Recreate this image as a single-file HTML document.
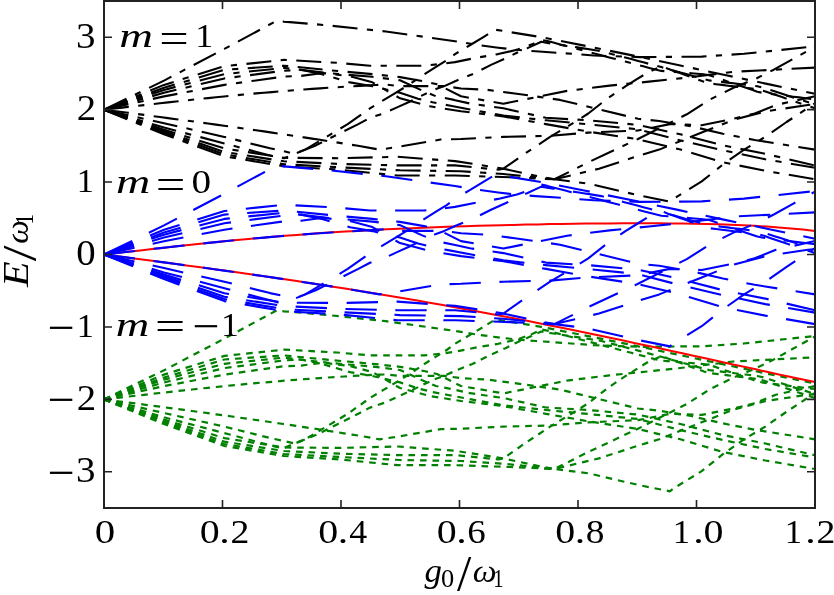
<!DOCTYPE html><html><head><meta charset="utf-8"><style>html,body{margin:0;padding:0;background:#fff;overflow:hidden}svg{display:block}</style></head><body><svg width="834" height="595" viewBox="0 0 834 595">
<rect width="100%" height="100%" fill="#fff"/>
<g fill="none" stroke-linejoin="round">
<path d="M104.0 399.4 L164.0 370.3 L224.4 338.6 L276.7 310.4 L284.0 311.3 L326.4 314.9 L385.9 321.2 L455.0 330.9 L476.6 334.5 L498.2 337.4 L516.9 339.5 L535.6 341.0 L565.0 343.0 L593.8 345.2 L640.0 346.8 L701.7 346.3 L744.1 343.5 L815.0 336.0" stroke="#008000" stroke-width="2.2" stroke-dasharray="6.6 5.9" stroke-linecap="butt"/>
<path d="M104.0 399.4 L164.0 374.6 L224.4 355.9 L284.0 349.6 L337.0 352.5 L370.0 355.4 L424.0 355.4 L442.0 353.6 L455.0 351.8 L476.6 347.4 L498.2 343.8 L516.9 339.5 L532.7 333.8 L541.3 329.5 L547.3 330.7 L553.3 332.3 L559.3 333.9 L565.3 335.4 L571.3 337.0 L577.3 338.6 L583.3 340.2 L589.3 341.8 L595.3 343.4 L601.3 345.0 L607.3 346.6 L613.3 348.1 L619.3 349.7 L625.3 351.3 L631.3 352.8 L637.3 354.4 L643.3 356.0 L649.3 357.6 L655.3 359.2 L661.3 360.6 L667.3 361.1 L673.3 361.5 L679.3 362.0 L685.3 362.5 L691.3 363.0 L697.3 363.5 L703.3 364.0 L709.3 364.9 L715.3 366.9 L721.3 369.0 L727.3 371.1 L733.3 373.1 L739.3 375.2 L745.3 377.2 L751.3 379.3 L757.3 381.4 L763.3 382.7 L769.3 383.4 L775.3 384.2 L781.3 384.9 L787.3 385.7 L793.3 386.4 L799.3 387.1 L805.3 387.9 L811.3 388.6 L815.0 389.0" stroke="#008000" stroke-width="2.2" stroke-dasharray="6.6 5.9" stroke-linecap="butt"/>
<path d="M104.0 399.4 L164.0 417.3 L224.4 433.1 L276.7 447.0 L284.0 448.0 L305.2 439.3 L326.4 426.6 L347.7 413.8 L370.0 398.0 L382.0 390.8 L394.0 383.6 L409.6 374.0 L422.8 365.0 L436.0 356.6 L446.7 350.0 L455.0 343.8 L469.4 335.2 L483.8 326.6 L495.3 319.4 L541.0 326.8 L586.6 335.8 L632.3 345.1 L678.0 354.7 L723.7 364.4 L769.3 374.1 L815.0 383.5" stroke="#008000" stroke-width="2.2" stroke-dasharray="6.6 5.9" stroke-linecap="butt"/>
<path d="M104.0 399.4 L164.0 413.0 L224.4 426.6 L270.0 438.0 L284.0 441.0 L294.6 443.5 L315.8 435.1 L337.0 424.4 L358.3 413.8 L370.0 407.6 L384.4 402.8 L397.6 396.8 L409.6 391.4 L422.8 384.8 L436.0 378.8 L444.3 375.8 L456.3 370.4 L472.3 364.0 L491.0 354.6 L505.4 348.2 L516.9 342.4 L527.0 338.1 L541.3 331.5 L547.3 332.6 L553.3 333.5 L559.3 334.4 L565.3 335.3 L571.3 336.2 L577.3 337.1 L583.3 338.1 L589.3 339.0 L595.3 339.9 L601.3 341.0 L607.3 342.6 L613.3 344.1 L619.3 345.7 L625.3 347.3 L631.3 348.8 L637.3 350.4 L643.3 352.0 L649.3 353.6 L655.3 355.2 L661.3 356.8 L667.3 358.5 L673.3 360.2 L679.3 361.9 L685.3 363.5 L691.3 365.2 L697.3 366.9 L703.3 368.6 L709.3 370.1 L715.3 370.8 L721.3 371.6 L727.3 372.3 L733.3 373.0 L739.3 373.8 L745.3 374.5 L751.3 375.2 L757.3 376.0 L763.3 377.4 L769.3 379.3 L775.3 381.3 L781.3 383.2 L787.3 385.1 L793.3 387.1 L799.3 389.0 L805.3 390.9 L811.3 392.8 L815.0 394.0" stroke="#008000" stroke-width="2.2" stroke-dasharray="6.6 5.9" stroke-linecap="butt"/>
<path d="M104.0 399.4 L112.0 398.5 L120.0 397.6 L128.0 396.6 L136.0 395.7 L144.0 394.8 L152.0 393.9 L160.0 393.0 L168.0 392.1 L176.0 391.2 L184.0 390.3 L192.0 389.5 L200.0 388.6 L208.0 387.8 L216.0 387.0 L224.0 386.2 L232.0 385.4 L240.0 384.6 L248.0 383.9 L256.0 383.1 L264.0 382.4 L272.0 381.8 L280.0 381.1 L288.0 380.4 L296.0 379.8 L304.0 379.2 L312.0 378.6 L320.0 378.1 L328.0 377.5 L336.0 377.0 L344.0 376.5 L352.0 376.0 L360.0 375.6 L368.0 375.1 L376.0 374.7 L384.0 374.3 L385.0 374.2 L398.8 375.8 L426.4 375.8 L444.3 375.8 L461.1 378.2 L487.5 379.6 L514.8 383.2 L540.7 386.8 L560.0 389.6 L588.3 396.5 L638.0 408.5 L659.2 410.7 L691.0 416.0 L722.9 423.4 L754.7 429.7 L815.0 439.3" stroke="#008000" stroke-width="2.2" stroke-dasharray="6.6 5.9" stroke-linecap="butt"/>
<path d="M104.0 399.4 L164.0 377.5 L224.4 359.5 L284.0 355.4 L330.0 360.0 L372.4 363.8 L400.0 366.8 L424.0 371.0 L437.0 374.0 L461.0 386.0 L503.4 393.4 L535.3 387.0 L567.1 380.6 L609.6 375.3 L651.3 371.1 L685.0 367.5 L733.5 361.5 L815.0 357.3" stroke="#008000" stroke-width="2.2" stroke-dasharray="6.6 5.9" stroke-linecap="butt"/>
<path d="M104.0 399.4 L164.0 379.6 L224.4 363.8 L284.0 357.6 L330.0 363.0 L372.4 366.5 L400.0 370.0 L421.6 380.0 L436.0 386.0 L454.0 389.6 L470.0 393.2 L503.4 398.0 L545.9 407.5 L588.3 410.0 L638.0 414.6 L680.4 424.0 L722.9 435.1 L765.3 443.5 L815.0 455.2" stroke="#008000" stroke-width="2.2" stroke-dasharray="6.6 5.9" stroke-linecap="butt"/>
<path d="M104.0 399.4 L164.0 382.5 L224.4 368.1 L284.0 360.4 L301.0 359.5 L323.0 364.2 L350.0 372.1 L372.4 376.0 L400.0 382.4 L418.0 388.4 L432.4 392.0 L448.0 395.0 L470.0 399.2 L503.4 405.3 L545.9 410.0 L588.3 414.0 L638.0 419.0 L680.0 430.0 L722.9 440.0 L765.3 449.0 L815.0 457.5" stroke="#008000" stroke-width="2.2" stroke-dasharray="6.6 5.9" stroke-linecap="butt"/>
<path d="M104.0 399.4 L164.0 386.1 L224.4 374.6 L284.0 366.2 L301.0 365.6 L323.0 362.7 L350.0 366.0 L372.4 372.0 L400.0 388.0 L430.0 396.0 L461.0 401.0 L503.4 406.1 L545.9 413.8 L588.3 421.3 L638.0 429.0 L680.4 439.3 L722.9 452.0 L765.3 460.5 L815.0 469.0" stroke="#008000" stroke-width="2.2" stroke-dasharray="6.6 5.9" stroke-linecap="butt"/>
<path d="M104.0 399.4 L112.0 400.4 L120.0 401.5 L128.0 402.5 L136.0 403.5 L144.0 404.6 L152.0 405.7 L160.0 406.7 L168.0 407.8 L176.0 408.9 L184.0 409.9 L192.0 411.0 L200.0 412.1 L208.0 413.2 L216.0 414.3 L224.0 415.4 L232.0 416.5 L240.0 417.7 L248.0 418.8 L256.0 420.0 L264.0 421.1 L272.0 422.3 L280.0 423.5 L288.0 424.7 L296.0 425.9 L304.0 427.1 L312.0 428.3 L320.0 429.5 L328.0 430.8 L336.0 432.0 L344.0 433.3 L352.0 434.6 L358.0 435.5 L379.5 439.3 L394.4 437.2 L440.7 429.2 L461.0 428.7 L503.4 426.6 L550.1 425.5 L588.3 422.3 L638.0 420.2 L669.8 413.8 L701.7 414.9 L733.5 408.5 L754.7 403.2 L775.9 394.7 L815.0 386.0" stroke="#008000" stroke-width="2.2" stroke-dasharray="6.6 5.9" stroke-linecap="butt"/>
<path d="M104.0 399.4 L164.0 419.5 L224.4 438.1 L284.0 447.5 L340.0 447.9 L397.6 446.5 L455.1 450.8 L501.2 458.0 L541.4 466.6 L554.4 469.0 L599.0 458.4 L638.0 445.7 L659.2 439.3 L680.4 430.8 L701.7 422.3 L733.5 409.6 L765.3 401.1 L807.8 394.7 L815.0 394.0" stroke="#008000" stroke-width="2.2" stroke-dasharray="6.6 5.9" stroke-linecap="butt"/>
<path d="M104.0 399.4 L164.0 421.0 L224.4 441.7 L284.0 451.0 L340.0 453.7 L397.6 455.1 L455.1 455.1 L498.3 459.4 L503.4 458.4 L524.7 443.5 L550.1 426.6 L571.4 413.8 L588.3 403.2 L608.2 387.6 L625.4 376.1 L636.9 368.9 L648.5 361.7 L662.0 356.0 L668.0 358.5 L674.0 360.7 L680.0 362.8 L686.0 365.0 L692.0 367.2 L698.0 369.3 L704.0 371.5 L710.0 373.2 L716.0 373.9 L722.0 374.6 L728.0 375.4 L734.0 376.1 L740.0 376.8 L746.0 377.6 L752.0 378.3 L758.0 379.0 L764.0 380.7 L770.0 382.7 L776.0 384.8 L782.0 386.8 L788.0 388.9 L794.0 390.9 L800.0 393.0 L806.0 395.0 L812.0 397.0 L815.0 398.0" stroke="#008000" stroke-width="2.2" stroke-dasharray="6.6 5.9" stroke-linecap="butt"/>
<path d="M104.0 399.4 L164.0 422.5 L224.4 444.0 L284.0 454.0 L340.0 457.0 L400.0 460.0 L461.0 461.0 L503.4 463.7 L554.4 469.0 L588.3 452.0 L638.0 428.7 L686.8 404.0 L710.2 389.1 L733.5 377.5 L756.8 367.9 L773.8 359.4 L792.9 348.8 L815.0 336.5" stroke="#008000" stroke-width="2.2" stroke-dasharray="6.6 5.9" stroke-linecap="butt"/>
<path d="M104.0 399.4 L164.0 424.0 L224.4 446.0 L284.0 456.0 L340.0 459.4 L397.6 465.2 L455.1 465.2 L510.0 467.0 L554.4 469.0 L588.3 473.3 L638.0 484.9 L669.8 491.3 L674.1 488.1 L701.7 471.1 L722.9 454.2 L744.1 439.3 L765.3 426.6 L786.6 411.7 L815.0 393.0" stroke="#008000" stroke-width="2.2" stroke-dasharray="6.6 5.9" stroke-linecap="butt"/>
<path d="M104.0 109.7 L164.0 80.6 L224.4 48.9 L276.7 20.7 L284.0 21.6 L326.4 25.2 L385.9 31.5 L455.0 41.2 L476.6 44.8 L498.2 47.7 L516.9 49.8 L535.6 51.3 L565.0 53.3 L593.8 55.5 L640.0 57.1 L701.7 56.6 L744.1 53.8 L815.0 46.3" stroke="#000000" stroke-width="2.1" stroke-dasharray="25 9.4 6.2 9.5" stroke-linecap="butt"/>
<path d="M104.0 109.7 L164.0 84.9 L224.4 66.2 L284.0 59.9 L337.0 62.8 L370.0 65.7 L424.0 65.7 L442.0 63.9 L455.0 62.1 L476.6 57.7 L498.2 54.1 L516.9 49.8 L532.7 44.1 L541.3 39.8 L547.3 41.0 L553.3 42.6 L559.3 44.2 L565.3 45.7 L571.3 47.3 L577.3 48.9 L583.3 50.5 L589.3 52.1 L595.3 53.7 L601.3 55.3 L607.3 56.9 L613.3 58.4 L619.3 60.0 L625.3 61.6 L631.3 63.1 L637.3 64.7 L643.3 66.3 L649.3 67.9 L655.3 69.5 L661.3 70.9 L667.3 71.4 L673.3 71.8 L679.3 72.3 L685.3 72.8 L691.3 73.3 L697.3 73.8 L703.3 74.3 L709.3 75.2 L715.3 77.2 L721.3 79.3 L727.3 81.4 L733.3 83.4 L739.3 85.5 L745.3 87.5 L751.3 89.6 L757.3 91.7 L763.3 93.0 L769.3 93.7 L775.3 94.5 L781.3 95.2 L787.3 96.0 L793.3 96.7 L799.3 97.4 L805.3 98.2 L811.3 98.9 L815.0 99.3" stroke="#000000" stroke-width="2.1" stroke-dasharray="25 9.4 6.2 9.5" stroke-linecap="butt"/>
<path d="M104.0 109.7 L164.0 127.6 L224.4 143.4 L276.7 157.3 L284.0 158.3 L305.2 149.6 L326.4 136.9 L347.7 124.1 L370.0 108.3 L382.0 101.1 L394.0 93.9 L409.6 84.3 L422.8 75.3 L436.0 66.9 L446.7 60.3 L455.0 54.1 L469.4 45.5 L483.8 36.9 L495.3 29.7 L541.0 37.1 L586.6 46.1 L632.3 55.4 L678.0 65.0 L723.7 74.7 L769.3 84.4 L815.0 93.8" stroke="#000000" stroke-width="2.1" stroke-dasharray="25 9.4 6.2 9.5" stroke-linecap="butt"/>
<path d="M104.0 109.7 L164.0 123.3 L224.4 136.9 L270.0 148.3 L284.0 151.3 L294.6 153.8 L315.8 145.4 L337.0 134.7 L358.3 124.1 L370.0 117.9 L384.4 113.1 L397.6 107.1 L409.6 101.7 L422.8 95.1 L436.0 89.1 L444.3 86.1 L456.3 80.7 L472.3 74.3 L491.0 64.9 L505.4 58.5 L516.9 52.7 L527.0 48.4 L541.3 41.8 L547.3 42.9 L553.3 43.8 L559.3 44.7 L565.3 45.6 L571.3 46.5 L577.3 47.4 L583.3 48.4 L589.3 49.3 L595.3 50.2 L601.3 51.3 L607.3 52.9 L613.3 54.4 L619.3 56.0 L625.3 57.6 L631.3 59.1 L637.3 60.7 L643.3 62.3 L649.3 63.9 L655.3 65.5 L661.3 67.1 L667.3 68.8 L673.3 70.5 L679.3 72.2 L685.3 73.8 L691.3 75.5 L697.3 77.2 L703.3 78.9 L709.3 80.4 L715.3 81.1 L721.3 81.9 L727.3 82.6 L733.3 83.3 L739.3 84.1 L745.3 84.8 L751.3 85.5 L757.3 86.3 L763.3 87.7 L769.3 89.6 L775.3 91.6 L781.3 93.5 L787.3 95.4 L793.3 97.4 L799.3 99.3 L805.3 101.2 L811.3 103.1 L815.0 104.3" stroke="#000000" stroke-width="2.1" stroke-dasharray="25 9.4 6.2 9.5" stroke-linecap="butt"/>
<path d="M104.0 109.7 L112.0 108.8 L120.0 107.9 L128.0 106.9 L136.0 106.0 L144.0 105.1 L152.0 104.2 L160.0 103.3 L168.0 102.4 L176.0 101.5 L184.0 100.6 L192.0 99.8 L200.0 98.9 L208.0 98.1 L216.0 97.3 L224.0 96.5 L232.0 95.7 L240.0 94.9 L248.0 94.2 L256.0 93.4 L264.0 92.7 L272.0 92.1 L280.0 91.4 L288.0 90.7 L296.0 90.1 L304.0 89.5 L312.0 88.9 L320.0 88.4 L328.0 87.8 L336.0 87.3 L344.0 86.8 L352.0 86.3 L360.0 85.9 L368.0 85.4 L376.0 85.0 L384.0 84.6 L385.0 84.5 L398.8 86.1 L426.4 86.1 L444.3 86.1 L461.1 88.5 L487.5 89.9 L514.8 93.5 L540.7 97.1 L560.0 99.9 L588.3 106.8 L638.0 118.8 L659.2 121.0 L691.0 126.3 L722.9 133.7 L754.7 140.0 L815.0 149.6" stroke="#000000" stroke-width="2.1" stroke-dasharray="25 9.4 6.2 9.5" stroke-linecap="butt"/>
<path d="M104.0 109.7 L164.0 87.8 L224.4 69.8 L284.0 65.7 L330.0 70.3 L372.4 74.1 L400.0 77.1 L424.0 81.3 L437.0 84.3 L461.0 96.3 L503.4 103.7 L535.3 97.3 L567.1 90.9 L609.6 85.6 L651.3 81.4 L685.0 77.8 L733.5 71.8 L815.0 67.6" stroke="#000000" stroke-width="2.1" stroke-dasharray="25 9.4 6.2 9.5" stroke-linecap="butt"/>
<path d="M104.0 109.7 L164.0 89.9 L224.4 74.1 L284.0 67.9 L330.0 73.3 L372.4 76.8 L400.0 80.3 L421.6 90.3 L436.0 96.3 L454.0 99.9 L470.0 103.5 L503.4 108.3 L545.9 117.8 L588.3 120.3 L638.0 124.9 L680.4 134.3 L722.9 145.4 L765.3 153.8 L815.0 165.5" stroke="#000000" stroke-width="2.1" stroke-dasharray="25 9.4 6.2 9.5" stroke-linecap="butt"/>
<path d="M104.0 109.7 L164.0 92.8 L224.4 78.4 L284.0 70.7 L301.0 69.8 L323.0 74.5 L350.0 82.4 L372.4 86.3 L400.0 92.7 L418.0 98.7 L432.4 102.3 L448.0 105.3 L470.0 109.5 L503.4 115.6 L545.9 120.3 L588.3 124.3 L638.0 129.3 L680.0 140.3 L722.9 150.3 L765.3 159.3 L815.0 167.8" stroke="#000000" stroke-width="2.1" stroke-dasharray="25 9.4 6.2 9.5" stroke-linecap="butt"/>
<path d="M104.0 109.7 L164.0 96.4 L224.4 84.9 L284.0 76.5 L301.0 75.9 L323.0 73.0 L350.0 76.3 L372.4 82.3 L400.0 98.3 L430.0 106.3 L461.0 111.3 L503.4 116.4 L545.9 124.1 L588.3 131.6 L638.0 139.3 L680.4 149.6 L722.9 162.3 L765.3 170.8 L815.0 179.3" stroke="#000000" stroke-width="2.1" stroke-dasharray="25 9.4 6.2 9.5" stroke-linecap="butt"/>
<path d="M104.0 109.7 L112.0 110.7 L120.0 111.8 L128.0 112.8 L136.0 113.8 L144.0 114.9 L152.0 116.0 L160.0 117.0 L168.0 118.1 L176.0 119.2 L184.0 120.2 L192.0 121.3 L200.0 122.4 L208.0 123.5 L216.0 124.6 L224.0 125.7 L232.0 126.8 L240.0 128.0 L248.0 129.1 L256.0 130.3 L264.0 131.4 L272.0 132.6 L280.0 133.8 L288.0 135.0 L296.0 136.2 L304.0 137.4 L312.0 138.6 L320.0 139.8 L328.0 141.1 L336.0 142.3 L344.0 143.6 L352.0 144.9 L358.0 145.8 L379.5 149.6 L394.4 147.5 L440.7 139.5 L461.0 139.0 L503.4 136.9 L550.1 135.8 L588.3 132.6 L638.0 130.5 L669.8 124.1 L701.7 125.2 L733.5 118.8 L754.7 113.5 L775.9 105.0 L815.0 96.3" stroke="#000000" stroke-width="2.1" stroke-dasharray="25 9.4 6.2 9.5" stroke-linecap="butt"/>
<path d="M104.0 109.7 L164.0 129.8 L224.4 148.4 L284.0 157.8 L340.0 158.2 L397.6 156.8 L455.1 161.1 L501.2 168.3 L541.4 176.9 L554.4 179.3 L599.0 168.7 L638.0 156.0 L659.2 149.6 L680.4 141.1 L701.7 132.6 L733.5 119.9 L765.3 111.4 L807.8 105.0 L815.0 104.3" stroke="#000000" stroke-width="2.1" stroke-dasharray="25 9.4 6.2 9.5" stroke-linecap="butt"/>
<path d="M104.0 109.7 L164.0 131.3 L224.4 152.0 L284.0 161.3 L340.0 164.0 L397.6 165.4 L455.1 165.4 L498.3 169.7 L503.4 168.7 L524.7 153.8 L550.1 136.9 L571.4 124.1 L588.3 113.5 L608.2 97.9 L625.4 86.4 L636.9 79.2 L648.5 72.0 L662.0 66.3 L668.0 68.8 L674.0 71.0 L680.0 73.1 L686.0 75.3 L692.0 77.5 L698.0 79.6 L704.0 81.8 L710.0 83.5 L716.0 84.2 L722.0 84.9 L728.0 85.7 L734.0 86.4 L740.0 87.1 L746.0 87.9 L752.0 88.6 L758.0 89.3 L764.0 91.0 L770.0 93.0 L776.0 95.1 L782.0 97.1 L788.0 99.2 L794.0 101.2 L800.0 103.3 L806.0 105.3 L812.0 107.3 L815.0 108.3" stroke="#000000" stroke-width="2.1" stroke-dasharray="25 9.4 6.2 9.5" stroke-linecap="butt"/>
<path d="M104.0 109.7 L164.0 132.8 L224.4 154.3 L284.0 164.3 L340.0 167.3 L400.0 170.3 L461.0 171.3 L503.4 174.0 L554.4 179.3 L588.3 162.3 L638.0 139.0 L686.8 114.3 L710.2 99.4 L733.5 87.8 L756.8 78.2 L773.8 69.7 L792.9 59.1 L815.0 46.8" stroke="#000000" stroke-width="2.1" stroke-dasharray="25 9.4 6.2 9.5" stroke-linecap="butt"/>
<path d="M104.0 109.7 L164.0 134.3 L224.4 156.3 L284.0 166.3 L340.0 169.7 L397.6 175.5 L455.1 175.5 L510.0 177.3 L554.4 179.3 L588.3 183.6 L638.0 195.2 L669.8 201.6 L674.1 198.4 L701.7 181.4 L722.9 164.5 L744.1 149.6 L765.3 136.9 L786.6 122.0 L815.0 103.3" stroke="#000000" stroke-width="2.1" stroke-dasharray="25 9.4 6.2 9.5" stroke-linecap="butt"/>
<path d="M104.0 254.5 L116.1 253.1 L128.1 251.8 L140.2 250.4 L152.2 249.0 L164.3 247.7 L176.3 246.3 L188.4 245.0 L200.4 243.7 L212.5 242.5 L224.5 241.3 L236.6 240.1 L248.6 239.0 L260.7 237.9 L272.7 236.8 L284.8 235.8 L296.8 234.9 L308.9 234.0 L320.9 233.1 L333.0 232.3 L345.0 231.6 L357.1 230.9 L369.1 230.2 L381.2 229.6 L393.2 229.0 L405.3 228.4 L417.3 227.9 L429.4 227.4 L441.4 227.0 L453.5 226.6 L465.5 226.2 L477.6 225.8 L489.6 225.5 L501.7 225.2 L513.7 224.9 L525.8 224.6 L537.8 224.4 L549.9 224.1 L561.9 223.9 L574.0 223.8 L586.0 223.6 L598.1 223.5 L610.1 223.4 L622.2 223.3 L634.2 223.3 L646.3 223.3 L658.3 223.3 L670.4 223.4 L682.4 223.5 L694.5 223.7 L706.5 224.0 L718.6 224.3 L730.6 224.7 L742.7 225.2 L754.7 225.8 L766.8 226.6 L778.8 227.4 L790.9 228.4 L802.9 229.6 L815.0 230.9" stroke="#ff0000" stroke-width="2.0" stroke-linecap="butt"/>
<path d="M104.0 254.5 L116.1 256.1 L128.1 257.7 L140.2 259.2 L152.2 260.8 L164.3 262.4 L176.3 264.0 L188.4 265.7 L200.4 267.3 L212.5 269.0 L224.5 270.6 L236.6 272.3 L248.6 274.0 L260.7 275.8 L272.7 277.5 L284.8 279.3 L296.8 281.1 L308.9 282.9 L320.9 284.8 L333.0 286.7 L345.0 288.6 L357.1 290.5 L369.1 292.5 L381.2 294.4 L393.2 296.5 L405.3 298.5 L417.3 300.6 L429.4 302.7 L441.4 304.8 L453.5 307.0 L465.5 309.2 L477.6 311.4 L489.6 313.7 L501.7 316.0 L513.7 318.3 L525.8 320.6 L537.8 323.0 L549.9 325.4 L561.9 327.8 L574.0 330.3 L586.0 332.8 L598.1 335.3 L610.1 337.8 L622.2 340.3 L634.2 342.9 L646.3 345.5 L658.3 348.1 L670.4 350.7 L682.4 353.3 L694.5 356.0 L706.5 358.6 L718.6 361.2 L730.6 363.9 L742.7 366.5 L754.7 369.1 L766.8 371.8 L778.8 374.4 L790.9 376.9 L802.9 379.5 L815.0 382.0" stroke="#ff0000" stroke-width="2.0" stroke-linecap="butt"/>
<path d="M104.0 254.5 L164.0 225.4 L224.4 193.7 L276.7 165.5 L284.0 166.4 L326.4 170.0 L385.9 176.3 L455.0 186.0 L476.6 189.6 L498.2 192.5 L516.9 194.6 L535.6 196.1 L565.0 198.1 L593.8 200.3 L640.0 201.9 L701.7 201.4 L744.1 198.6 L815.0 191.1" stroke="#0000ff" stroke-width="2.1" stroke-dasharray="31.3 18.6" stroke-linecap="butt"/>
<path d="M104.0 254.5 L164.0 229.7 L224.4 211.0 L284.0 204.7 L337.0 207.6 L370.0 210.5 L424.0 210.5 L442.0 208.7 L455.0 206.9 L476.6 202.5 L498.2 198.9 L516.9 194.6 L532.7 188.9 L541.3 184.6 L547.3 185.9 L553.3 187.4 L559.3 189.0 L565.3 190.6 L571.3 192.2 L577.3 193.7 L583.3 195.3 L589.3 196.9 L595.3 198.5 L601.3 200.1 L607.3 201.7 L613.3 203.3 L619.3 204.8 L625.3 206.4 L631.3 208.0 L637.3 209.6 L643.3 211.2 L649.3 212.8 L655.3 214.3 L661.3 215.7 L667.3 216.2 L673.3 216.7 L679.3 217.2 L685.3 217.7 L691.3 218.2 L697.3 218.7 L703.3 219.2 L709.3 220.0 L715.3 222.1 L721.3 224.1 L727.3 226.2 L733.3 228.3 L739.3 230.3 L745.3 232.4 L751.3 234.4 L757.3 236.5 L763.3 237.8 L769.3 238.6 L775.3 239.3 L781.3 240.1 L787.3 240.8 L793.3 241.6 L799.3 242.3 L805.3 243.0 L811.3 243.7 L815.0 244.2" stroke="#0000ff" stroke-width="2.1" stroke-dasharray="31.3 18.6" stroke-linecap="butt"/>
<path d="M104.0 254.5 L164.0 272.4 L224.4 288.2 L276.7 302.1 L284.0 303.1 L305.2 294.4 L326.4 281.7 L347.7 268.9 L370.0 253.1 L382.0 245.9 L394.0 238.7 L409.6 229.1 L422.8 220.1 L436.0 211.7 L446.7 205.1 L455.0 198.9 L469.4 190.3 L483.8 181.7 L495.3 174.5 L541.0 182.0 L586.6 191.0 L632.3 200.3 L678.0 209.9 L723.7 219.6 L769.3 229.2 L815.0 238.7" stroke="#0000ff" stroke-width="2.1" stroke-dasharray="31.3 18.6" stroke-linecap="butt"/>
<path d="M104.0 254.5 L164.0 268.1 L224.4 281.7 L270.0 293.1 L284.0 296.1 L294.6 298.6 L315.8 290.2 L337.0 279.5 L358.3 268.9 L370.0 262.7 L384.4 257.9 L397.6 251.9 L409.6 246.5 L422.8 239.9 L436.0 233.9 L444.3 230.9 L456.3 225.5 L472.3 219.1 L491.0 209.7 L505.4 203.3 L516.9 197.5 L527.0 193.2 L541.3 186.6 L547.3 187.7 L553.3 188.6 L559.3 189.5 L565.3 190.4 L571.3 191.3 L577.3 192.3 L583.3 193.2 L589.3 194.1 L595.3 195.1 L601.3 196.1 L607.3 197.7 L613.3 199.3 L619.3 200.8 L625.3 202.4 L631.3 204.0 L637.3 205.6 L643.3 207.2 L649.3 208.8 L655.3 210.3 L661.3 212.0 L667.3 213.6 L673.3 215.3 L679.3 217.0 L685.3 218.7 L691.3 220.4 L697.3 222.1 L703.3 223.7 L709.3 225.2 L715.3 226.0 L721.3 226.7 L727.3 227.4 L733.3 228.2 L739.3 228.9 L745.3 229.6 L751.3 230.4 L757.3 231.1 L763.3 232.5 L769.3 234.4 L775.3 236.4 L781.3 238.3 L787.3 240.3 L793.3 242.2 L799.3 244.1 L805.3 246.1 L811.3 248.0 L815.0 249.2" stroke="#0000ff" stroke-width="2.1" stroke-dasharray="31.3 18.6" stroke-linecap="butt"/>
<path d="M104.0 254.5 L112.0 253.6 L120.0 252.7 L128.0 251.8 L136.0 250.9 L144.0 250.0 L152.0 249.0 L160.0 248.1 L168.0 247.2 L176.0 246.4 L184.0 245.5 L192.0 244.6 L200.0 243.8 L208.0 242.9 L216.0 242.1 L224.0 241.3 L232.0 240.5 L240.0 239.8 L248.0 239.0 L256.0 238.3 L264.0 237.6 L272.0 236.9 L280.0 236.2 L288.0 235.6 L296.0 235.0 L304.0 234.4 L312.0 233.8 L320.0 233.2 L328.0 232.7 L336.0 232.1 L344.0 231.6 L352.0 231.2 L360.0 230.7 L368.0 230.3 L376.0 229.8 L384.0 229.4 L385.0 229.4 L398.8 230.9 L426.4 230.9 L444.3 230.9 L461.1 233.3 L487.5 234.7 L514.8 238.3 L540.7 241.9 L560.0 244.7 L588.3 251.6 L638.0 263.6 L659.2 265.8 L691.0 271.1 L722.9 278.5 L754.7 284.8 L815.0 294.4" stroke="#0000ff" stroke-width="2.1" stroke-dasharray="31.3 18.6" stroke-linecap="butt"/>
<path d="M104.0 254.5 L164.0 232.6 L224.4 214.6 L284.0 210.5 L330.0 215.1 L372.4 218.9 L400.0 221.9 L424.0 226.1 L437.0 229.1 L461.0 241.1 L503.4 248.5 L535.3 242.1 L567.1 235.7 L609.6 230.4 L651.3 226.2 L685.0 222.6 L733.5 216.6 L815.0 212.4" stroke="#0000ff" stroke-width="2.1" stroke-dasharray="31.3 18.6" stroke-linecap="butt"/>
<path d="M104.0 254.5 L164.0 234.7 L224.4 218.9 L284.0 212.7 L330.0 218.1 L372.4 221.6 L400.0 225.1 L421.6 235.1 L436.0 241.1 L454.0 244.7 L470.0 248.3 L503.4 253.1 L545.9 262.6 L588.3 265.1 L638.0 269.7 L680.4 279.1 L722.9 290.2 L765.3 298.6 L815.0 310.3" stroke="#0000ff" stroke-width="2.1" stroke-dasharray="31.3 18.6" stroke-linecap="butt"/>
<path d="M104.0 254.5 L164.0 237.6 L224.4 223.2 L284.0 215.5 L301.0 214.6 L323.0 219.3 L350.0 227.2 L372.4 231.1 L400.0 237.5 L418.0 243.5 L432.4 247.1 L448.0 250.1 L470.0 254.3 L503.4 260.4 L545.9 265.1 L588.3 269.1 L638.0 274.1 L680.0 285.1 L722.9 295.1 L765.3 304.1 L815.0 312.6" stroke="#0000ff" stroke-width="2.1" stroke-dasharray="31.3 18.6" stroke-linecap="butt"/>
<path d="M104.0 254.5 L164.0 241.2 L224.4 229.7 L284.0 221.3 L301.0 220.7 L323.0 217.8 L350.0 221.1 L372.4 227.1 L400.0 243.1 L430.0 251.1 L461.0 256.1 L503.4 261.2 L545.9 268.9 L588.3 276.4 L638.0 284.1 L680.4 294.4 L722.9 307.1 L765.3 315.6 L815.0 324.1" stroke="#0000ff" stroke-width="2.1" stroke-dasharray="31.3 18.6" stroke-linecap="butt"/>
<path d="M104.0 254.5 L112.0 255.6 L120.0 256.6 L128.0 257.6 L136.0 258.7 L144.0 259.7 L152.0 260.8 L160.0 261.9 L168.0 262.9 L176.0 264.0 L184.0 265.1 L192.0 266.2 L200.0 267.2 L208.0 268.3 L216.0 269.5 L224.0 270.6 L232.0 271.7 L240.0 272.8 L248.0 274.0 L256.0 275.1 L264.0 276.3 L272.0 277.4 L280.0 278.6 L288.0 279.8 L296.0 281.0 L304.0 282.2 L312.0 283.4 L320.0 284.7 L328.0 285.9 L336.0 287.1 L344.0 288.4 L352.0 289.7 L358.0 290.7 L379.5 294.4 L394.4 292.3 L440.7 284.3 L461.0 283.8 L503.4 281.7 L550.1 280.6 L588.3 277.4 L638.0 275.3 L669.8 268.9 L701.7 270.0 L733.5 263.6 L754.7 258.3 L775.9 249.8 L815.0 241.1" stroke="#0000ff" stroke-width="2.1" stroke-dasharray="31.3 18.6" stroke-linecap="butt"/>
<path d="M104.0 254.5 L164.0 274.6 L224.4 293.2 L284.0 302.6 L340.0 303.0 L397.6 301.6 L455.1 305.9 L501.2 313.1 L541.4 321.7 L554.4 324.1 L599.0 313.5 L638.0 300.8 L659.2 294.4 L680.4 285.9 L701.7 277.4 L733.5 264.7 L765.3 256.2 L807.8 249.8 L815.0 249.1" stroke="#0000ff" stroke-width="2.1" stroke-dasharray="31.3 18.6" stroke-linecap="butt"/>
<path d="M104.0 254.5 L164.0 276.1 L224.4 296.8 L284.0 306.1 L340.0 308.8 L397.6 310.2 L455.1 310.2 L498.3 314.5 L503.4 313.5 L524.7 298.6 L550.1 281.7 L571.4 268.9 L588.3 258.3 L608.2 242.7 L625.4 231.2 L636.9 224.0 L648.5 216.8 L662.0 211.1 L668.0 213.7 L674.0 215.8 L680.0 218.0 L686.0 220.1 L692.0 222.3 L698.0 224.5 L704.0 226.6 L710.0 228.3 L716.0 229.0 L722.0 229.8 L728.0 230.5 L734.0 231.3 L740.0 232.0 L746.0 232.7 L752.0 233.5 L758.0 234.2 L764.0 235.8 L770.0 237.9 L776.0 239.9 L782.0 242.0 L788.0 244.0 L794.0 246.1 L800.0 248.1 L806.0 250.1 L812.0 252.1 L815.0 253.2" stroke="#0000ff" stroke-width="2.1" stroke-dasharray="31.3 18.6" stroke-linecap="butt"/>
<path d="M104.0 254.5 L164.0 277.6 L224.4 299.1 L284.0 309.1 L340.0 312.1 L400.0 315.1 L461.0 316.1 L503.4 318.8 L554.4 324.1 L588.3 307.1 L638.0 283.8 L686.8 259.1 L710.2 244.2 L733.5 232.6 L756.8 223.0 L773.8 214.5 L792.9 203.9 L815.0 191.6" stroke="#0000ff" stroke-width="2.1" stroke-dasharray="31.3 18.6" stroke-linecap="butt"/>
<path d="M104.0 254.5 L164.0 279.1 L224.4 301.1 L284.0 311.1 L340.0 314.5 L397.6 320.3 L455.1 320.3 L510.0 322.1 L554.4 324.1 L588.3 328.4 L638.0 340.0 L669.8 346.4 L674.1 343.2 L701.7 326.2 L722.9 309.3 L744.1 294.4 L765.3 281.7 L786.6 266.8 L815.0 248.1" stroke="#0000ff" stroke-width="2.1" stroke-dasharray="31.3 18.6" stroke-linecap="butt"/>
</g>
<path d="M104.00 508v-8M104.00 1v8M222.50 508v-8M222.50 1v8M341.00 508v-8M341.00 1v8M459.50 508v-8M459.50 1v8M578.00 508v-8M578.00 1v8M696.50 508v-8M696.50 1v8M815.00 508v-8M815.00 1v8M104 471.79h8M815 471.79h-8M104 399.36h8M815 399.36h-8M104 326.93h8M815 326.93h-8M104 254.50h8M815 254.50h-8M104 182.07h8M815 182.07h-8M104 109.64h8M815 109.64h-8M104 37.21h8M815 37.21h-8" stroke="#222" stroke-width="1.6" fill="none"/>
<rect x="104" y="1" width="711" height="507" fill="none" stroke="#222" stroke-width="2"/>
<g font-family="Liberation Serif, serif" fill="#000"><text transform="translate(94.76,543.02) scale(1.187,0.986)" font-size="34.5">0</text><text transform="translate(199.70,543.02) scale(1.159,0.986)" font-size="34.5">0</text><text transform="translate(219.37,543.17) scale(1.212,0.966)" font-size="34.5">.</text><text transform="translate(230.49,543.10) scale(1.094,0.990)" font-size="34.5">2</text><text transform="translate(318.20,543.02) scale(1.159,0.986)" font-size="34.5">0</text><text transform="translate(337.87,543.17) scale(1.212,0.966)" font-size="34.5">.</text><text transform="translate(349.28,543.10) scale(1.040,0.990)" font-size="34.5">4</text><text transform="translate(436.70,543.02) scale(1.159,0.986)" font-size="34.5">0</text><text transform="translate(456.37,543.17) scale(1.212,0.966)" font-size="34.5">.</text><text transform="translate(467.32,543.02) scale(1.072,0.986)" font-size="34.5">6</text><text transform="translate(555.20,543.02) scale(1.159,0.986)" font-size="34.5">0</text><text transform="translate(574.87,543.17) scale(1.212,0.966)" font-size="34.5">.</text><text transform="translate(585.80,543.02) scale(1.084,0.986)" font-size="34.5">8</text><text transform="translate(672.86,543.10) scale(1.010,0.975)" font-size="34.5">1</text><text transform="translate(693.37,543.17) scale(1.212,0.966)" font-size="34.5">.</text><text transform="translate(703.50,543.02) scale(1.159,0.986)" font-size="34.5">0</text><text transform="translate(784.86,543.10) scale(1.010,0.975)" font-size="34.5">1</text><text transform="translate(805.37,543.17) scale(1.212,0.966)" font-size="34.5">.</text><text transform="translate(816.49,543.10) scale(1.094,0.990)" font-size="34.5">2</text><text transform="translate(76.05,482.24) scale(1.131,1.023)" font-size="34.5">3</text><text transform="translate(47.70,487.85) scale(1.394,1.333)" font-size="34.5">−</text><text transform="translate(76.75,409.76) scale(1.123,1.021)" font-size="34.5">2</text><text transform="translate(47.70,415.42) scale(1.394,1.333)" font-size="34.5">−</text><text transform="translate(76.81,337.33) scale(0.994,1.006)" font-size="34.5">1</text><text transform="translate(47.70,342.99) scale(1.394,1.333)" font-size="34.5">−</text><text transform="translate(76.15,264.60) scale(1.125,1.008)" font-size="34.5">0</text><text transform="translate(76.81,192.47) scale(0.994,1.006)" font-size="34.5">1</text><text transform="translate(76.75,120.04) scale(1.123,1.021)" font-size="34.5">2</text><text transform="translate(76.05,47.66) scale(1.131,1.023)" font-size="34.5">3</text><text transform="translate(119.13,46.70) scale(1.354,0.981)" font-size="34.5" font-style="italic">m</text><text transform="translate(159.28,52.30) scale(1.517,1.229)" font-size="34.5">=</text><text transform="translate(195.16,46.70) scale(1.043,0.988)" font-size="34.5">1</text><text transform="translate(116.00,193.40) scale(1.377,0.981)" font-size="34.5" font-style="italic">m</text><text transform="translate(155.87,198.22) scale(1.523,1.217)" font-size="34.5">=</text><text transform="translate(191.53,193.12) scale(1.139,0.991)" font-size="34.5">0</text><text transform="translate(115.74,335.70) scale(1.345,0.981)" font-size="34.5" font-style="italic">m</text><text transform="translate(155.12,340.38) scale(1.554,1.171)" font-size="34.5">=</text><text transform="translate(192.40,341.34) scale(1.394,1.275)" font-size="34.5">−</text><text transform="translate(220.99,335.70) scale(1.035,0.993)" font-size="34.5">1</text><text transform="translate(424.40,581.68) scale(1.011,0.955)" font-size="34.5" font-style="italic">g</text><text transform="translate(440.94,586.68) scale(1.101,1.082)" font-size="24">0</text><text transform="translate(457.00,589.69) scale(1.491,1.476)" font-size="34.5">/</text><text transform="translate(472.79,582.07) scale(0.980,0.942)" font-size="34.5" font-style="italic">ω</text><text transform="translate(493.25,586.60) scale(0.857,1.061)" font-size="24">1</text></g>
<g font-family="Liberation Serif, serif" fill="#000" transform="translate(0,290) rotate(-90)"><text transform="translate(3.12,27.70) scale(1.217,1.012)" font-size="34.5" font-style="italic">E</text><text transform="translate(28.70,35.60) scale(1.656,1.436)" font-size="34.5">/</text><text transform="translate(46.20,28.19) scale(0.966,0.912)" font-size="34.5" font-style="italic">ω</text><text transform="translate(65.35,32.70) scale(0.905,1.054)" font-size="24">1</text></g>
</svg></body></html>
